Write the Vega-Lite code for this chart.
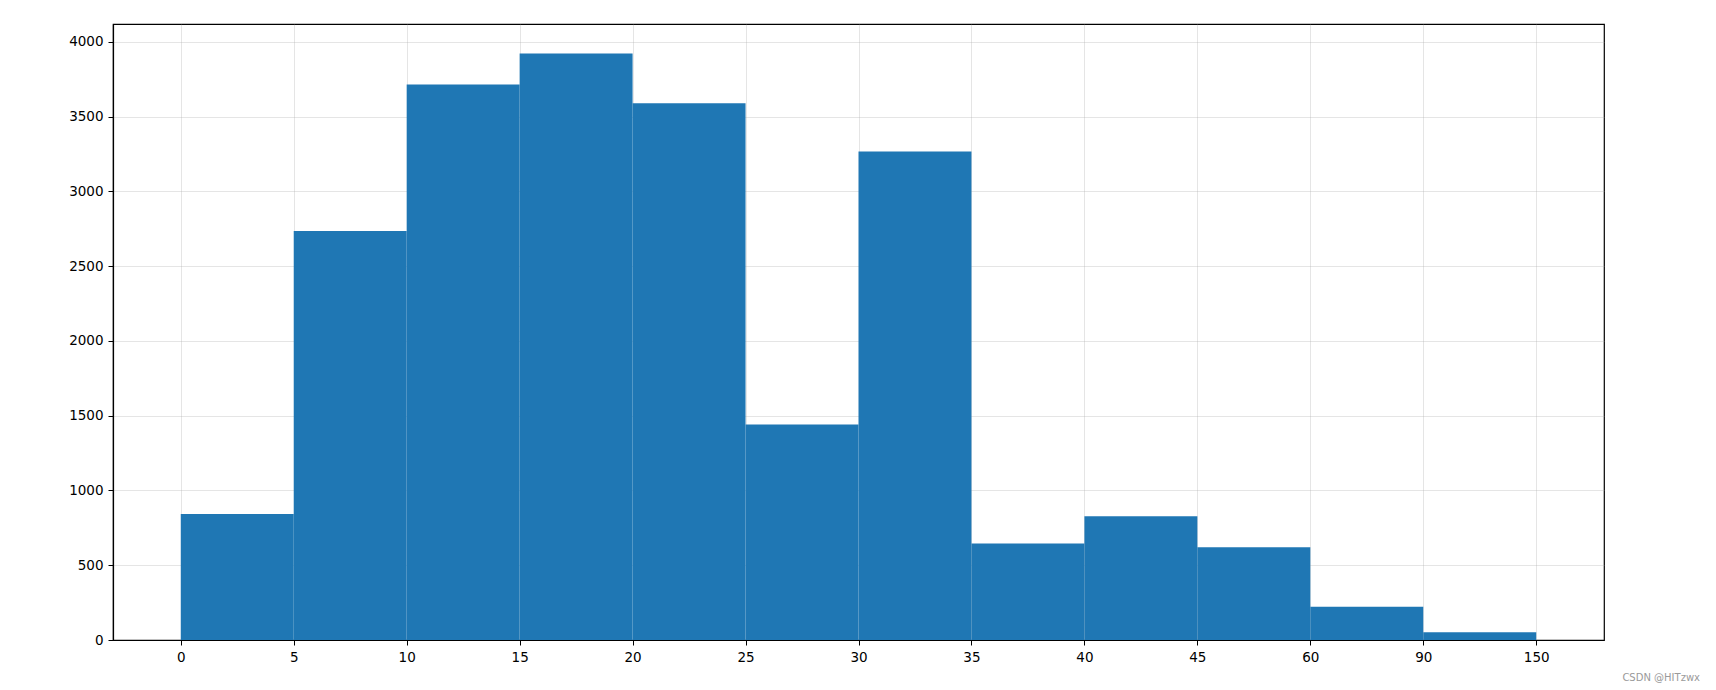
{
  "$schema": "https://vega.github.io/schema/vega-lite/v6.json",
  "width": 1491,
  "height": 616,
  "autosize": {"type": "none"},
  "padding": {"left": 113, "top": 24, "right": 112, "bottom": 50},
  "background": "white",
  "data": {
    "values": [
      {"left": "0", "right": "5", "count": 842},
      {"left": "5", "right": "10", "count": 2735},
      {"left": "10", "right": "15", "count": 3716},
      {"left": "15", "right": "20", "count": 3922},
      {"left": "20", "right": "25", "count": 3590},
      {"left": "25", "right": "30", "count": 1442},
      {"left": "30", "right": "35", "count": 3268},
      {"left": "35", "right": "40", "count": 646},
      {"left": "40", "right": "45", "count": 827},
      {"left": "45", "right": "60", "count": 620},
      {"left": "60", "right": "90", "count": 222},
      {"left": "90", "right": "150", "count": 52}
    ]
  },
  "title": {
    "text": "CSDN @HITzwx",
    "orient": "bottom",
    "anchor": "end",
    "dx": 96,
    "offset": 9,
    "font": "DejaVu Sans",
    "fontSize": 10,
    "fontWeight": "normal",
    "color": "#9a9a9a"
  },
  "mark": {"type": "rect", "color": "#1f77b4"},
  "encoding": {
    "x": {
      "field": "left",
      "type": "ordinal",
      "scale": {
        "type": "point",
        "domain": ["0", "5", "10", "15", "20", "25", "30", "35", "40", "45", "60", "90", "150"],
        "padding": 0.6
      },
      "axis": {"title": null, "labelAngle": 0}
    },
    "x2": {"field": "right"},
    "y": {
      "field": "count",
      "type": "quantitative",
      "scale": {"domain": [0, 4120], "nice": false},
      "axis": {"title": null, "format": "d", "values": [0, 500, 1000, 1500, 2000, 2500, 3000, 3500, 4000]}
    },
    "y2": {"datum": 0}
  },
  "config": {
    "view": {"stroke": "black", "strokeWidth": 1.2},
    "axis": {
      "zindex": 1,
      "grid": true,
      "gridColor": "#b0b0b0",
      "gridOpacity": 0.33,
      "gridWidth": 1,
      "domainColor": "black",
      "domainWidth": 1.2,
      "tickColor": "black",
      "tickSize": 5,
      "tickWidth": 1,
      "labelFont": "DejaVu Sans",
      "labelFontSize": 13.5,
      "labelColor": "black",
      "labelPadding": 5
    }
  }
}
